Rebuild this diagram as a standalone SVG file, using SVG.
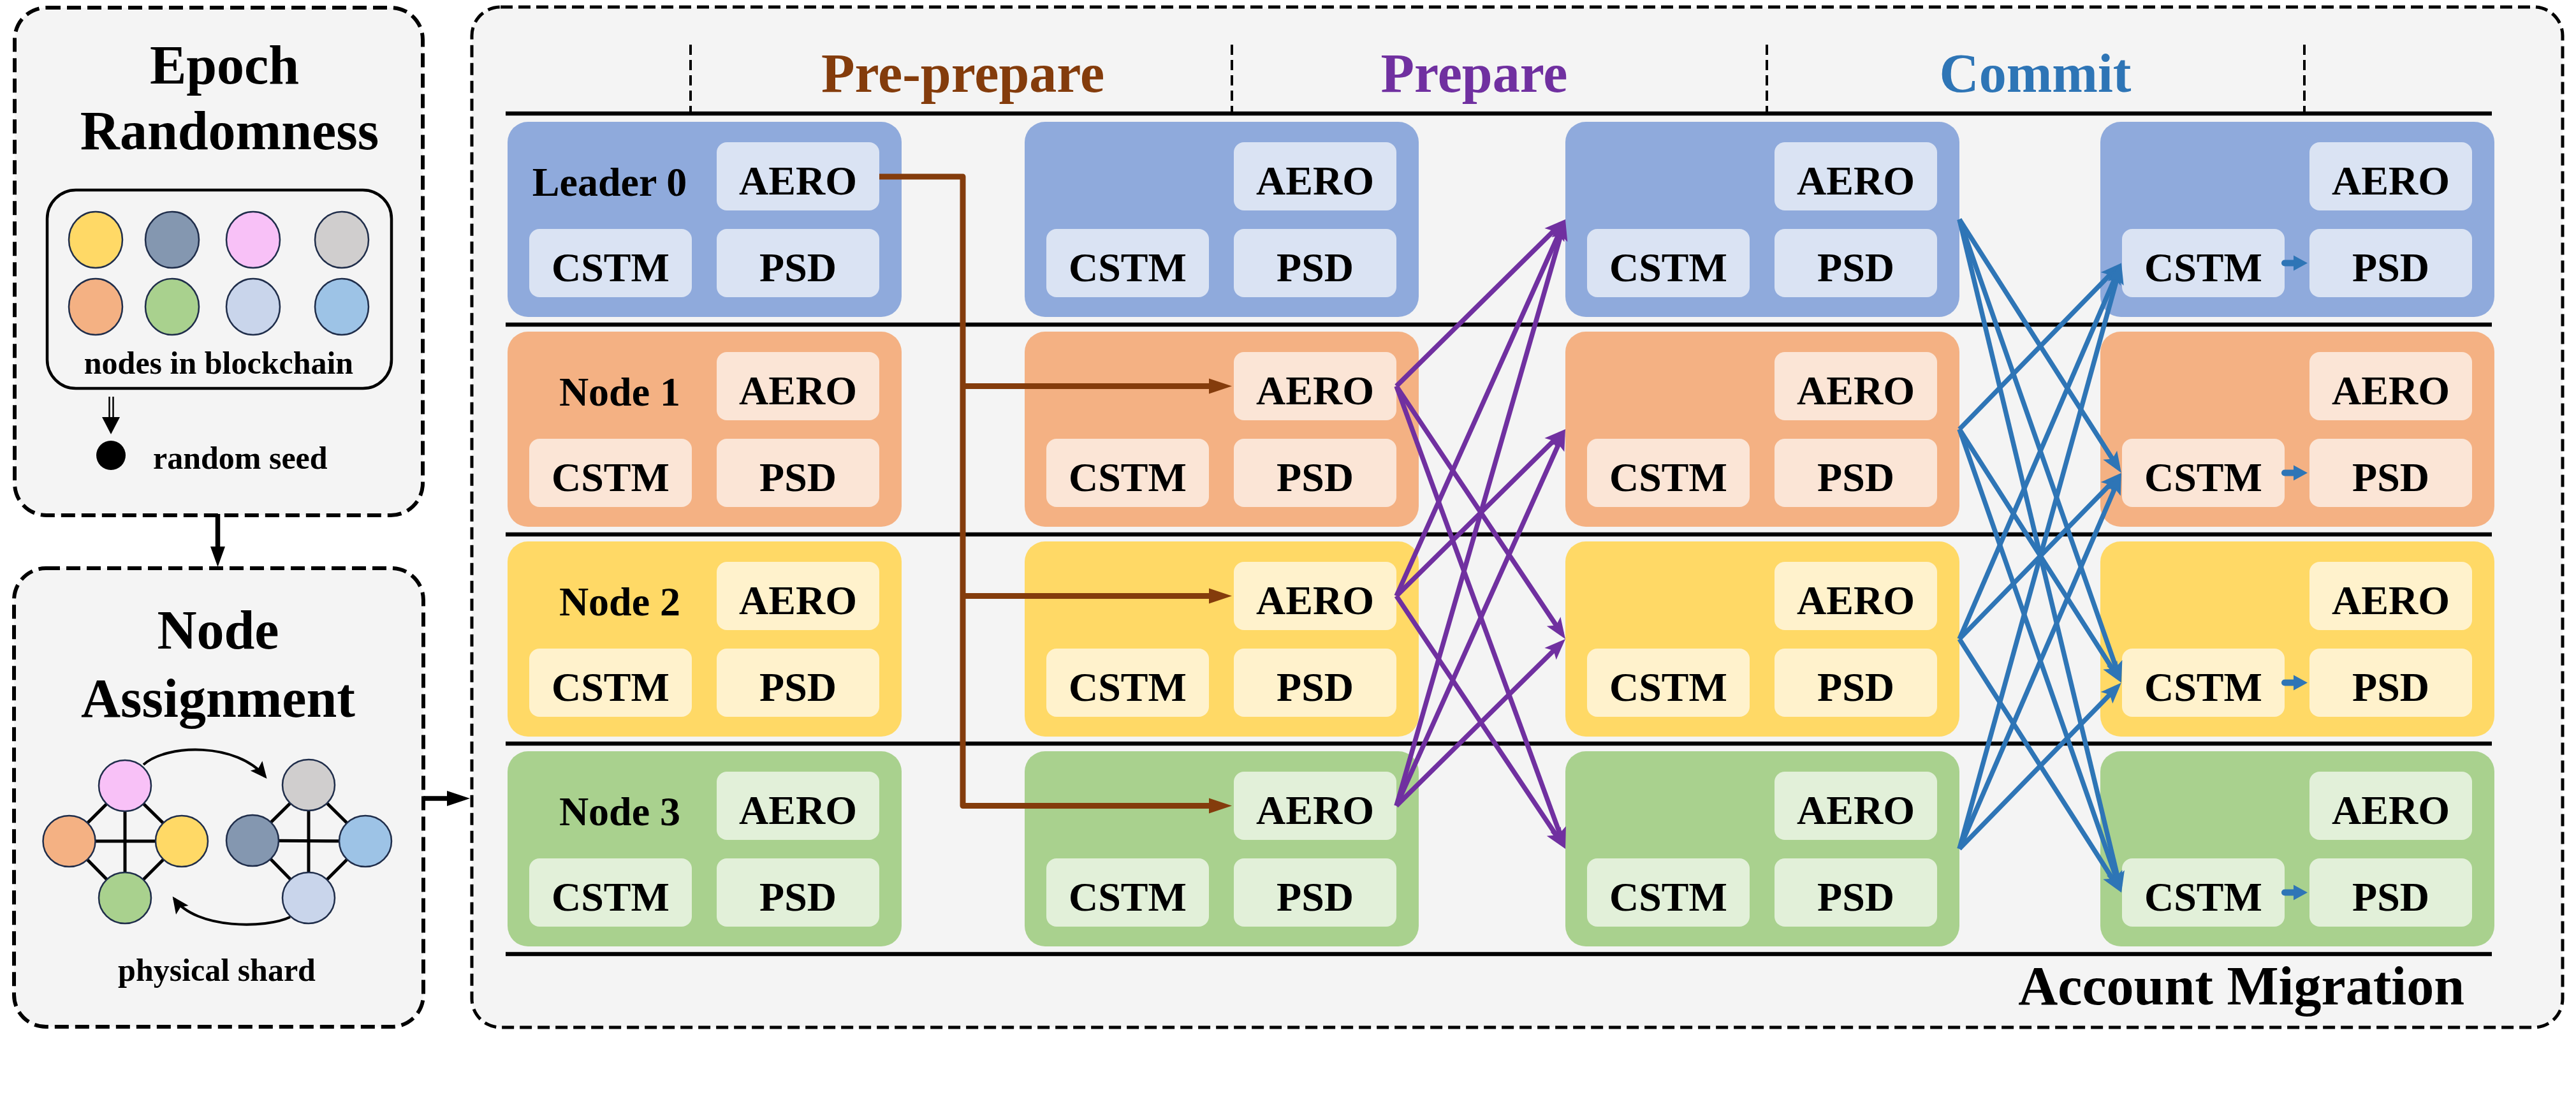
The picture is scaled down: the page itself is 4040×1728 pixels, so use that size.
<svg xmlns="http://www.w3.org/2000/svg" width="4040" height="1728" viewBox="0 0 4040 1728">
<style>
text{font-family:"Liberation Serif","Times New Roman",serif;font-weight:bold;fill:#000}
.t86{font-size:86px}
.t64{font-size:64px;text-anchor:middle}
.t50{font-size:50px}
.mid{text-anchor:middle}
.panel{fill:#F4F4F4;stroke:#000;stroke-width:6;stroke-dasharray:22 10}
.mainp{fill:#F4F4F4;stroke:#000;stroke-width:5;stroke-dasharray:19 9}
.rowline{stroke:#000;stroke-width:6.5}
.sep{stroke:#000;stroke-width:4;stroke-dasharray:16 8}
.ob{fill:#8FAADC}.ib{fill:#DAE3F3}
.oo{fill:#F4B183}.io{fill:#FBE5D6}
.oy{fill:#FFD966}.iy{fill:#FFF2CC}
.og{fill:#A9D18E}.ig{fill:#E2F0D9}
.dot{stroke:#1F2D4A;stroke-width:2.5}
.edge{stroke:#000;stroke-width:5}
.brown{fill:none;stroke:#843C0C;stroke-width:9;stroke-linejoin:round}
.purple{fill:none;stroke:#7030A0;stroke-width:7.5;marker-end:url(#hp)}
.blue{fill:none;stroke:#2E75B6;stroke-width:7.5;marker-end:url(#hb)}
</style>
<defs>
<marker id="hp" markerUnits="userSpaceOnUse" markerWidth="33" markerHeight="26" viewBox="0 0 33 26" refX="23" refY="13" orient="auto" overflow="visible">
<path d="M0,0 L33,13 L0,26 L7,13 z" fill="#7030A0"/>
</marker>
<marker id="hb" markerUnits="userSpaceOnUse" markerWidth="33" markerHeight="26" viewBox="0 0 33 26" refX="23" refY="13" orient="auto" overflow="visible">
<path d="M0,0 L33,13 L0,26 L7,13 z" fill="#2E75B6"/>
</marker>
<marker id="hk" markerUnits="userSpaceOnUse" markerWidth="26" markerHeight="24" viewBox="0 0 26 24" refX="22" refY="12" orient="auto" overflow="visible">
<path d="M0,0 L26,12 L0,24 L5,12 z" fill="#000"/>
</marker>
</defs>
<rect width="4040" height="1728" fill="#fff"/>

<!-- Epoch Randomness panel -->
<g id="epoch-randomness">
<rect class="panel" x="23" y="12" width="640" height="796" rx="50"/>
<text class="t86 mid" x="352" y="131">Epoch</text>
<text class="t86 mid" x="360" y="234">Randomness</text>
<rect x="74" y="298" width="540" height="311" rx="45" fill="none" stroke="#000" stroke-width="4.5"/>
<ellipse class="dot" cx="150" cy="376" rx="42" ry="44" fill="#FFD966"/>
<ellipse class="dot" cx="270" cy="376" rx="42" ry="44" fill="#8497B0"/>
<ellipse class="dot" cx="397" cy="376" rx="42" ry="44" fill="#F8C1F7"/>
<ellipse class="dot" cx="536" cy="376" rx="42" ry="44" fill="#D0CECE"/>
<ellipse class="dot" cx="150" cy="481" rx="42" ry="44" fill="#F4B183"/>
<ellipse class="dot" cx="270" cy="481" rx="42" ry="44" fill="#A9D18E"/>
<ellipse class="dot" cx="397" cy="481" rx="42" ry="44" fill="#C9D5EB"/>
<ellipse class="dot" cx="536" cy="481" rx="42" ry="44" fill="#9DC3E6"/>
<text class="t50 mid" x="343" y="586">nodes in blockchain</text>
<line x1="171.5" y1="622" x2="171.5" y2="656" stroke="#000" stroke-width="2.5"/>
<line x1="177.5" y1="622" x2="177.5" y2="656" stroke="#000" stroke-width="2.5"/>
<polygon points="160,654 188,654 174,681" fill="#000"/>
<circle cx="174" cy="714" r="23" fill="#000"/>
<text class="t50" x="240" y="735">random seed</text>
</g>

<!-- Node Assignment panel -->
<g id="node-assignment">
<rect class="panel" x="22" y="891" width="642" height="719" rx="50"/>
<text class="t86 mid" x="342" y="1017">Node</text>
<text class="t86 mid" x="342" y="1124">Assignment</text>
<g class="edge">
<line x1="196" y1="1232" x2="108.5" y2="1319"/>
<line x1="196" y1="1232" x2="285" y2="1319"/>
<line x1="108.5" y1="1319" x2="196" y2="1408"/>
<line x1="285" y1="1319" x2="196" y2="1408"/>
<line x1="196" y1="1232" x2="196" y2="1408"/>
<line x1="108.5" y1="1319" x2="285" y2="1319"/>
<line x1="484" y1="1231" x2="396" y2="1318"/>
<line x1="484" y1="1231" x2="573" y2="1319"/>
<line x1="396" y1="1318" x2="484" y2="1408"/>
<line x1="573" y1="1319" x2="484" y2="1408"/>
<line x1="484" y1="1231" x2="484" y2="1408"/>
<line x1="396" y1="1318" x2="573" y2="1319"/>
</g>
<ellipse class="dot" cx="196" cy="1232" rx="41" ry="40" fill="#F8C1F7"/>
<ellipse class="dot" cx="108.5" cy="1319" rx="41" ry="40" fill="#F4B183"/>
<ellipse class="dot" cx="285" cy="1319" rx="41" ry="40" fill="#FFD966"/>
<ellipse class="dot" cx="196" cy="1408" rx="41" ry="40" fill="#A9D18E"/>
<ellipse class="dot" cx="484" cy="1231" rx="41" ry="40" fill="#D0CECE"/>
<ellipse class="dot" cx="396" cy="1318" rx="41" ry="40" fill="#8497B0"/>
<ellipse class="dot" cx="573" cy="1319" rx="41" ry="40" fill="#9DC3E6"/>
<ellipse class="dot" cx="484" cy="1408" rx="41" ry="40" fill="#C9D5EB"/>
<path d="M225,1199 C262,1166 372,1164 416,1218" fill="none" stroke="#000" stroke-width="4" marker-end="url(#hk)"/>
<path d="M455,1438 C418,1456 308,1458 273,1409" fill="none" stroke="#000" stroke-width="4" marker-end="url(#hk)"/>
<text class="t50 mid" x="340" y="1538">physical shard</text>
</g>

<!-- Account Migration panel -->
<g id="account-migration">
<rect class="mainp" x="740" y="11" width="3279" height="1600" rx="45"/>
<line class="sep" x1="1083" y1="70" x2="1083" y2="176"/>
<line class="sep" x1="1932" y1="70" x2="1932" y2="176"/>
<line class="sep" x1="2771" y1="70" x2="2771" y2="176"/>
<line class="sep" x1="3614" y1="70" x2="3614" y2="176"/>
<text class="t86 mid" x="1510" y="144" style="fill:#843C0C">Pre-prepare</text>
<text class="t86 mid" x="2312" y="144" style="fill:#7030A0">Prepare</text>
<text class="t86 mid" x="3192" y="144" style="fill:#2E75B6">Commit</text>
<line class="rowline" x1="793" y1="178" x2="3908" y2="178"/>
<line class="rowline" x1="793" y1="509" x2="3908" y2="509"/>
<line class="rowline" x1="793" y1="838" x2="3908" y2="838"/>
<line class="rowline" x1="793" y1="1166" x2="3908" y2="1166"/>
<line class="rowline" x1="793" y1="1496" x2="3908" y2="1496"/>
<text class="t86" x="3865" y="1575" style="text-anchor:end">Account Migration</text>
</g>

<!-- Row 0: Leader -->
<g id="leader0-c1" transform="translate(796,191)">
<rect class="ob" width="618" height="306" rx="32"/>
<rect class="ib" x="328" y="32" width="255" height="107" rx="16"/>
<rect class="ib" x="34" y="168" width="255" height="107" rx="16"/>
<rect class="ib" x="328" y="168" width="255" height="107" rx="16"/>
<text class="t64" x="160" y="116">Leader 0</text>
<text class="t64" x="455.5" y="114">AERO</text>
<text class="t64" x="161.5" y="250">CSTM</text>
<text class="t64" x="455.5" y="250">PSD</text>
</g>
<g id="leader0-c2" transform="translate(1607,191)">
<rect class="ob" width="618" height="306" rx="32"/>
<rect class="ib" x="328" y="32" width="255" height="107" rx="16"/>
<rect class="ib" x="34" y="168" width="255" height="107" rx="16"/>
<rect class="ib" x="328" y="168" width="255" height="107" rx="16"/>
<text class="t64" x="455.5" y="114">AERO</text>
<text class="t64" x="161.5" y="250">CSTM</text>
<text class="t64" x="455.5" y="250">PSD</text>
</g>
<g id="leader0-c3" transform="translate(2455,191)">
<rect class="ob" width="618" height="306" rx="32"/>
<rect class="ib" x="328" y="32" width="255" height="107" rx="16"/>
<rect class="ib" x="34" y="168" width="255" height="107" rx="16"/>
<rect class="ib" x="328" y="168" width="255" height="107" rx="16"/>
<text class="t64" x="455.5" y="114">AERO</text>
<text class="t64" x="161.5" y="250">CSTM</text>
<text class="t64" x="455.5" y="250">PSD</text>
</g>
<g id="leader0-c4" transform="translate(3294,191)">
<rect class="ob" width="618" height="306" rx="32"/>
<rect class="ib" x="328" y="32" width="255" height="107" rx="16"/>
<rect class="ib" x="34" y="168" width="255" height="107" rx="16"/>
<rect class="ib" x="328" y="168" width="255" height="107" rx="16"/>
<text class="t64" x="455.5" y="114">AERO</text>
<text class="t64" x="161.5" y="250">CSTM</text>
<text class="t64" x="455.5" y="250">PSD</text>
</g>

<!-- Row 1: Node 1 -->
<g id="node1-c1" transform="translate(796,520)">
<rect class="oo" width="618" height="306" rx="32"/>
<rect class="io" x="328" y="32" width="255" height="107" rx="16"/>
<rect class="io" x="34" y="168" width="255" height="107" rx="16"/>
<rect class="io" x="328" y="168" width="255" height="107" rx="16"/>
<text class="t64" x="176" y="116">Node 1</text>
<text class="t64" x="455.5" y="114">AERO</text>
<text class="t64" x="161.5" y="250">CSTM</text>
<text class="t64" x="455.5" y="250">PSD</text>
</g>
<g id="node1-c2" transform="translate(1607,520)">
<rect class="oo" width="618" height="306" rx="32"/>
<rect class="io" x="328" y="32" width="255" height="107" rx="16"/>
<rect class="io" x="34" y="168" width="255" height="107" rx="16"/>
<rect class="io" x="328" y="168" width="255" height="107" rx="16"/>
<text class="t64" x="455.5" y="114">AERO</text>
<text class="t64" x="161.5" y="250">CSTM</text>
<text class="t64" x="455.5" y="250">PSD</text>
</g>
<g id="node1-c3" transform="translate(2455,520)">
<rect class="oo" width="618" height="306" rx="32"/>
<rect class="io" x="328" y="32" width="255" height="107" rx="16"/>
<rect class="io" x="34" y="168" width="255" height="107" rx="16"/>
<rect class="io" x="328" y="168" width="255" height="107" rx="16"/>
<text class="t64" x="455.5" y="114">AERO</text>
<text class="t64" x="161.5" y="250">CSTM</text>
<text class="t64" x="455.5" y="250">PSD</text>
</g>
<g id="node1-c4" transform="translate(3294,520)">
<rect class="oo" width="618" height="306" rx="32"/>
<rect class="io" x="328" y="32" width="255" height="107" rx="16"/>
<rect class="io" x="34" y="168" width="255" height="107" rx="16"/>
<rect class="io" x="328" y="168" width="255" height="107" rx="16"/>
<text class="t64" x="455.5" y="114">AERO</text>
<text class="t64" x="161.5" y="250">CSTM</text>
<text class="t64" x="455.5" y="250">PSD</text>
</g>

<!-- Row 2: Node 2 -->
<g id="node2-c1" transform="translate(796,849)">
<rect class="oy" width="618" height="306" rx="32"/>
<rect class="iy" x="328" y="32" width="255" height="107" rx="16"/>
<rect class="iy" x="34" y="168" width="255" height="107" rx="16"/>
<rect class="iy" x="328" y="168" width="255" height="107" rx="16"/>
<text class="t64" x="176" y="116">Node 2</text>
<text class="t64" x="455.5" y="114">AERO</text>
<text class="t64" x="161.5" y="250">CSTM</text>
<text class="t64" x="455.5" y="250">PSD</text>
</g>
<g id="node2-c2" transform="translate(1607,849)">
<rect class="oy" width="618" height="306" rx="32"/>
<rect class="iy" x="328" y="32" width="255" height="107" rx="16"/>
<rect class="iy" x="34" y="168" width="255" height="107" rx="16"/>
<rect class="iy" x="328" y="168" width="255" height="107" rx="16"/>
<text class="t64" x="455.5" y="114">AERO</text>
<text class="t64" x="161.5" y="250">CSTM</text>
<text class="t64" x="455.5" y="250">PSD</text>
</g>
<g id="node2-c3" transform="translate(2455,849)">
<rect class="oy" width="618" height="306" rx="32"/>
<rect class="iy" x="328" y="32" width="255" height="107" rx="16"/>
<rect class="iy" x="34" y="168" width="255" height="107" rx="16"/>
<rect class="iy" x="328" y="168" width="255" height="107" rx="16"/>
<text class="t64" x="455.5" y="114">AERO</text>
<text class="t64" x="161.5" y="250">CSTM</text>
<text class="t64" x="455.5" y="250">PSD</text>
</g>
<g id="node2-c4" transform="translate(3294,849)">
<rect class="oy" width="618" height="306" rx="32"/>
<rect class="iy" x="328" y="32" width="255" height="107" rx="16"/>
<rect class="iy" x="34" y="168" width="255" height="107" rx="16"/>
<rect class="iy" x="328" y="168" width="255" height="107" rx="16"/>
<text class="t64" x="455.5" y="114">AERO</text>
<text class="t64" x="161.5" y="250">CSTM</text>
<text class="t64" x="455.5" y="250">PSD</text>
</g>

<!-- Row 3: Node 3 -->
<g id="node3-c1" transform="translate(796,1178)">
<rect class="og" width="618" height="306" rx="32"/>
<rect class="ig" x="328" y="32" width="255" height="107" rx="16"/>
<rect class="ig" x="34" y="168" width="255" height="107" rx="16"/>
<rect class="ig" x="328" y="168" width="255" height="107" rx="16"/>
<text class="t64" x="176" y="116">Node 3</text>
<text class="t64" x="455.5" y="114">AERO</text>
<text class="t64" x="161.5" y="250">CSTM</text>
<text class="t64" x="455.5" y="250">PSD</text>
</g>
<g id="node3-c2" transform="translate(1607,1178)">
<rect class="og" width="618" height="306" rx="32"/>
<rect class="ig" x="328" y="32" width="255" height="107" rx="16"/>
<rect class="ig" x="34" y="168" width="255" height="107" rx="16"/>
<rect class="ig" x="328" y="168" width="255" height="107" rx="16"/>
<text class="t64" x="455.5" y="114">AERO</text>
<text class="t64" x="161.5" y="250">CSTM</text>
<text class="t64" x="455.5" y="250">PSD</text>
</g>
<g id="node3-c3" transform="translate(2455,1178)">
<rect class="og" width="618" height="306" rx="32"/>
<rect class="ig" x="328" y="32" width="255" height="107" rx="16"/>
<rect class="ig" x="34" y="168" width="255" height="107" rx="16"/>
<rect class="ig" x="328" y="168" width="255" height="107" rx="16"/>
<text class="t64" x="455.5" y="114">AERO</text>
<text class="t64" x="161.5" y="250">CSTM</text>
<text class="t64" x="455.5" y="250">PSD</text>
</g>
<g id="node3-c4" transform="translate(3294,1178)">
<rect class="og" width="618" height="306" rx="32"/>
<rect class="ig" x="328" y="32" width="255" height="107" rx="16"/>
<rect class="ig" x="34" y="168" width="255" height="107" rx="16"/>
<rect class="ig" x="328" y="168" width="255" height="107" rx="16"/>
<text class="t64" x="455.5" y="114">AERO</text>
<text class="t64" x="161.5" y="250">CSTM</text>
<text class="t64" x="455.5" y="250">PSD</text>
</g>

<!-- Connectors -->
<g id="connectors">
<line x1="341.5" y1="806" x2="341.5" y2="860" stroke="#000" stroke-width="7.5"/>
<polygon points="330,857 353,857 341.5,889" fill="#000"/>
<line x1="664" y1="1252" x2="704" y2="1252" stroke="#000" stroke-width="7.5"/>
<polygon points="701,1240 701,1264 737,1252" fill="#000"/>

<path class="brown" d="M1379,277 H1510 V1263.5 H1902"/>
<path class="brown" d="M1510,605.5 H1902"/>
<path class="brown" d="M1510,934.5 H1902"/>
<polygon points="1896,593.5 1932,605.5 1896,617.5" fill="#843C0C"/>
<polygon points="1896,922.5 1932,934.5 1896,946.5" fill="#843C0C"/>
<polygon points="1896,1251.5 1932,1263.5 1896,1275.5" fill="#843C0C"/>

<line class="purple" x1="2190" y1="605.5" x2="2447.9" y2="351"/>
<line class="purple" x1="2190" y1="605.5" x2="2449.4" y2="993.7"/>
<line class="purple" x1="2190" y1="605.5" x2="2451.6" y2="1321.6"/>
<line class="purple" x1="2190" y1="934.5" x2="2450.9" y2="353.1"/>
<line class="purple" x1="2190" y1="934.5" x2="2447.9" y2="680"/>
<line class="purple" x1="2190" y1="934.5" x2="2449.4" y2="1322.7"/>
<line class="purple" x1="2190" y1="1263.5" x2="2452.2" y2="353.6"/>
<line class="purple" x1="2190" y1="1263.5" x2="2450.9" y2="682.1"/>
<line class="purple" x1="2190" y1="1263.5" x2="2447.9" y2="1009"/>

<line class="blue" x1="3073" y1="344" x2="3321.6" y2="733.1"/>
<line class="blue" x1="3073" y1="344" x2="3323.7" y2="1061.1"/>
<line class="blue" x1="3073" y1="344" x2="3324.7" y2="1389.8"/>
<line class="blue" x1="3073" y1="673" x2="3320" y2="419.7"/>
<line class="blue" x1="3073" y1="673" x2="3321.6" y2="1062.1"/>
<line class="blue" x1="3073" y1="673" x2="3323.7" y2="1390.1"/>
<line class="blue" x1="3073" y1="1002" x2="3323" y2="421.7"/>
<line class="blue" x1="3073" y1="1002" x2="3320" y2="748.7"/>
<line class="blue" x1="3073" y1="1002" x2="3321.6" y2="1391.1"/>
<line class="blue" x1="3073" y1="1331" x2="3324.3" y2="422.1"/>
<line class="blue" x1="3073" y1="1331" x2="3323" y2="751.2"/>
<line class="blue" x1="3073" y1="1331" x2="3320" y2="1077.7"/>

<g stroke="#2E75B6" stroke-width="10" stroke-linecap="round">
<line x1="3583" y1="412.5" x2="3600" y2="412.5"/>
<line x1="3583" y1="741.5" x2="3600" y2="741.5"/>
<line x1="3583" y1="1070.5" x2="3600" y2="1070.5"/>
<line x1="3583" y1="1399.5" x2="3600" y2="1399.5"/>
</g>
<g fill="#2E75B6">
<polygon points="3597,400.5 3619,412.5 3597,424.5"/>
<polygon points="3597,729.5 3619,741.5 3597,753.5"/>
<polygon points="3597,1058.5 3619,1070.5 3597,1082.5"/>
<polygon points="3597,1387.5 3619,1399.5 3597,1411.5"/>
</g>
</g>
</svg>
